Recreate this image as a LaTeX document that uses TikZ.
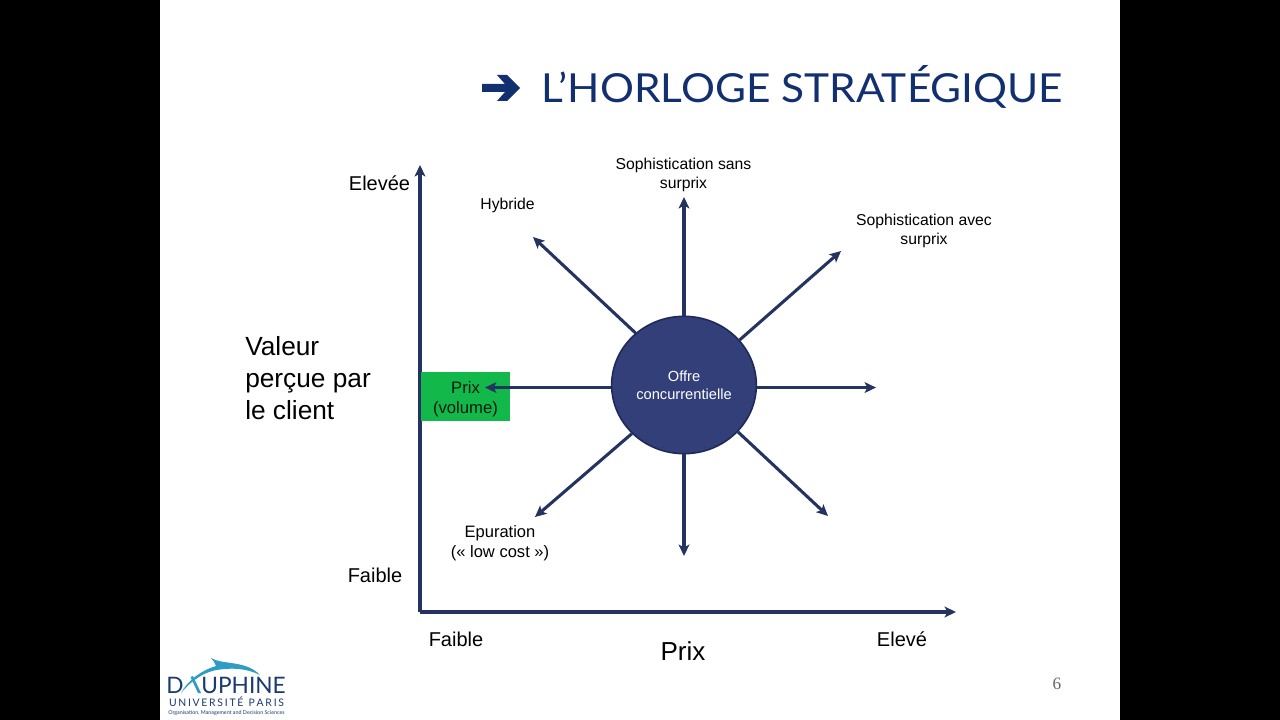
\documentclass[tikz,border=0pt]{standalone}
\usepackage{fontspec}
\setmainfont{Liberation Sans}
\newfontfamily\titlefont{Lato}
\newfontfamily\pagefont{Liberation Serif}
\usetikzlibrary{arrows.meta,shapes.geometric}
\definecolor{navy}{HTML}{24335F}
\definecolor{titleblue}{HTML}{12306F}
\definecolor{disc}{HTML}{323F78}
\definecolor{discedge}{HTML}{1F2A5A}
\definecolor{boxgreen}{HTML}{12B84A}
\definecolor{logoblue}{HTML}{1B3A70}
\definecolor{logoteal}{HTML}{2E9CC4}
\tikzset{
  x=0.75pt,y=-0.75pt,
  conn/.style={draw=navy,line width=2.3pt,-{Stealth[length=8.5pt,width=8pt,inset=2pt]}},
  lbl/.style={inner sep=0pt,align=center,text=black,font=\fontsize{11.8}{14.6}\selectfont},
  axlbl/.style={inner sep=0pt,align=center,text=black,font=\fontsize{15}{18}\selectfont},
  biglbl/.style={inner sep=0pt,align=left,text=black,font=\fontsize{19.7}{24}\selectfont},
}
\begin{document}
\begin{tikzpicture}
\useasboundingbox (0,0) rectangle (1280,720);
\fill[black] (0,0) rectangle (1280,720);
\fill[white] (160,0) rectangle (1120,720);
% title
\fill[titleblue] (482,84) -- (505,84) -- (497,75) -- (507,75) -- (520,88) -- (507,101) -- (497,101) -- (505,92) -- (482,92) -- cycle;
\node[anchor=base west,inner sep=0pt,text=titleblue,xscale=1.06,font=\titlefont\fontsize{30}{36}\selectfont] (title) at (541,103) {L’HORLOGE STRATÉGIQUE};
% axes
\coordinate (o) at (420,612);
\coordinate (ytop) at (420,165);
\coordinate (xend) at (956,612);
\draw[conn] (o) -- (ytop);
\draw[conn] (o) -- (xend);
% green box
\node[fill=boxgreen,minimum width=66.75pt,minimum height=36.5pt,inner sep=0pt] (box) at (465.5,396.7) {};
\node[lbl,text=black!85!boxgreen,font=\fontsize{12.5}{14.6}\selectfont] (boxt) at (465.5,399) {Prix\\(volume)};
% disc
\node[ellipse,fill=disc,draw=discedge,line width=1.2pt,minimum width=108.5pt,minimum height=103pt,inner sep=0pt] (c) at (684,385) {};
\node[lbl,text=white,font=\fontsize{11}{13.3}\selectfont] (ct) at (684,385) {Offre\\concurrentielle};
% arrow ends
\coordinate (eu) at (684,197);
\coordinate (eur) at (841,251);
\coordinate (er) at (876,388);
\coordinate (elr) at (828,516);
\coordinate (ed) at (684,556);
\coordinate (ell) at (535,517);
\coordinate (el) at (485,388);
\coordinate (eul) at (533,237);
\draw[conn] (c.north) -- (eu);
\draw[conn] (c.39.4) -- (eur);
\draw[conn] (c.-2.4) -- (c.-2.4 -| er);
\draw[conn] (c.-41) -- (elr);
\draw[conn] (c.south) -- (ed);
\draw[conn] (c.223) -- (ell);
\draw[conn] (c.182.4) -- (c.182.4 -| el);
\draw[conn] (c.133) -- (eul);
% labels
\node[lbl] (l1) at (683.5,175) {Sophistication sans\\surprix};
\node[lbl] (l2) at (507.5,205) {Hybride};
\node[lbl] (l3) at (924,231) {Sophistication avec\\surprix};
\node[lbl,font=\fontsize{12.4}{14.6}\selectfont] (l4) at (500,543) {Epuration\\(« low cost »)};
\node[axlbl] (a1) at (379.5,183) {Elevée};
\node[axlbl] (a2) at (375,575) {Faible};
\node[axlbl] (a3) at (456,639) {Faible};
\node[axlbl] (a4) at (902,639) {Elevé};
\node[inner sep=0pt,text=black,font=\fontsize{19.5}{24}\selectfont] (a5) at (683,651) {Prix};
\node[biglbl,anchor=west] (a6) at (245,378) {Valeur\\perçue par\\le client};
\node[inner sep=0pt,text=black!60,font=\pagefont\fontsize{13}{15}\selectfont] (pg) at (1057,684) {6};
% logo
\fill[logoteal] (211,658) .. controls (222,665) and (246,660) .. (260,675) .. controls (246,668) and (232,668) .. (220,669.5) .. controls (205,671) and (192,680) .. (181,693) .. controls (188,680) and (202,670) .. (216,666) .. controls (215,663) and (213,660) .. (211,658) -- cycle;
\fill[logoteal] (190.5,677) -- (193,676) -- (201,693) -- (198,693) -- cycle;
\node[anchor=base west,inner sep=0pt,text=logoblue,font=\titlefont\fontsize{17}{20}\selectfont] (lg1) at (166,693.5) {D};
\node[anchor=base east,inner sep=0pt,text=logoblue,font=\titlefont\fontsize{17}{20}\selectfont] (lg2) at (286,693.5) {UPHINE};
\node[anchor=base,inner sep=0pt,text=logoblue,font=\titlefont\fontsize{7.8}{9}\selectfont] (lg3) at (226.5,706) {U\,N\,I\,V\,E\,R\,S\,I\,T\,É\ \ P\,A\,R\,I\,S};
\node[anchor=base,inner sep=0pt,text=logoblue,font=\titlefont\fontsize{4}{5}\selectfont] (lg4) at (226.5,714.5) {Organisation, Management and Decision Sciences};
\end{tikzpicture}
\end{document}
